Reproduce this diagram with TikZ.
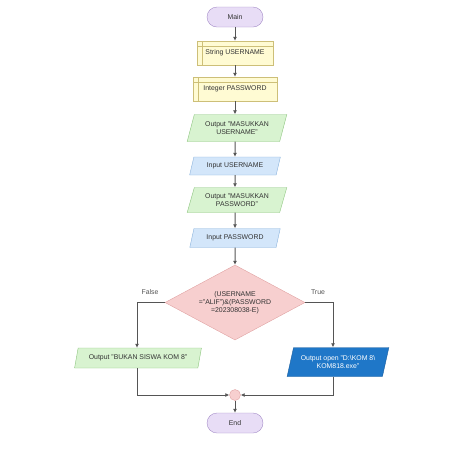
\documentclass[tikz,border=0pt]{standalone}
\usepackage{fontspec}
\setmainfont{Liberation Sans}
\usepackage{xcolor}
\usetikzlibrary{shapes.geometric, arrows.meta, positioning, calc}

\definecolor{termFill}{HTML}{E8DDF6}
\definecolor{termLine}{HTML}{A48CC8}
\definecolor{declFill}{HTML}{FFFBD3}
\definecolor{declLine}{HTML}{CDBF78}
\definecolor{outFill}{HTML}{D8F3D0}
\definecolor{outLine}{HTML}{8CC47E}
\definecolor{inFill}{HTML}{D3E6FA}
\definecolor{inLine}{HTML}{8AB2DC}
\definecolor{condFill}{HTML}{F7CFCF}
\definecolor{condLine}{HTML}{E0A2A2}
\definecolor{openFill}{HTML}{1F77C8}
\definecolor{openLine}{HTML}{195C9C}
\definecolor{flowLine}{HTML}{555555}
\definecolor{txt}{HTML}{333333}

\begin{document}
\begin{tikzpicture}[
    x=1pt, y=-1pt,
    every node/.style={font=\fontsize{6.9}{8.2}\selectfont, text=txt, align=center},
    terminal/.style={rectangle, rounded corners=10pt, draw=termLine, fill=termFill, minimum width=56pt, minimum height=20pt},
    declare/.style={rectangle, draw=declLine, fill=declFill, minimum width=76pt, minimum height=24pt,
        path picture={
            \draw[declLine] ([xshift=5pt]path picture bounding box.north west) -- ([xshift=5pt]path picture bounding box.south west);
            \draw[declLine] ([yshift=-5pt]path picture bounding box.north west) -- ([yshift=-5pt]path picture bounding box.north east);}},
    io/.style={trapezium, trapezium left angle=70, trapezium right angle=110, trapezium stretches=true, inner sep=1pt},
    output/.style={io, draw=outLine, fill=outFill},
    input/.style={io, draw=inLine, fill=inFill},
    decision/.style={diamond, aspect=1.87, draw=condLine, fill=condFill, minimum width=140pt, minimum height=75pt, inner sep=0pt},
    junction/.style={circle, draw=condLine, fill=condFill, minimum size=11pt, inner sep=0pt},
    flow/.style={draw=flowLine, line width=1pt, -{Latex[length=4pt, width=4pt]}},
    lbl/.style={text=flowLine}
]
\useasboundingbox (0,0) rectangle (474,451);

% Nodes
\node[terminal] (Main) at (235,17) {Main};
\node[declare] (DeclUser) at (235,53) {String USERNAME};
\node[declare, minimum width=84pt] (DeclPass) at (235,89) {Integer PASSWORD};
\node[output, minimum width=100pt, minimum height=27pt] (AskUser) at (237,128) {Output "MASUKKAN\\USERNAME"};
\node[input, minimum width=91pt, minimum height=18pt] (GetUser) at (235,166) {Input USERNAME};
\node[output, minimum width=100pt, minimum height=25pt] (AskPass) at (237,200) {Output "MASUKKAN\\PASSWORD"};
\node[input, minimum width=91pt, minimum height=19pt] (GetPass) at (235,238) {Input PASSWORD};
\node[decision] (Check) at (235,302.5) {(USERNAME\\="ALIF")\&(PASSWORD\\=202308038-E)};
\node[output, minimum width=127pt, minimum height=20pt] (NoMember) at (138,358) {Output "BUKAN SISWA KOM 8"};
\node[io, draw=openLine, fill=openFill, text=white, minimum width=102pt, minimum height=29pt] (OpenApp) at (338,362) {Output open "D:\textbackslash KOM 8\textbackslash\\KOM818.exe"};
\node[junction] (Join) at (235,395) {};
\node[terminal] (End) at (235,423) {End};

% Labels
\node[lbl] at (150,292) {False};
\node[lbl] at (318,292) {True};

% Edges
\draw[flow] (Main) -- (DeclUser);
\draw[flow] (DeclUser) -- (DeclPass);
\draw[flow] (DeclPass) -- (AskUser.north -| DeclPass.south);
\draw[flow] (AskUser.south -| GetUser.north) -- (GetUser);
\draw[flow] (GetUser) -- (AskPass.north -| GetUser.south);
\draw[flow] (AskPass.south -| GetPass.north) -- (GetPass);
\draw[flow] (GetPass) -- (Check);

% Edges Branches
\draw[flow] (Check.west) -| ([xshift=-1pt]NoMember.north);
\draw[flow] (Check.east) -| ([xshift=-5pt]OpenApp.north);
\draw[flow] ([xshift=-1pt]NoMember.south) |- (Join.west);
\draw[flow] ([xshift=-5pt]OpenApp.south) |- (Join.east);
\draw[flow] (Join) -- (End);

\end{tikzpicture}
\end{document}
